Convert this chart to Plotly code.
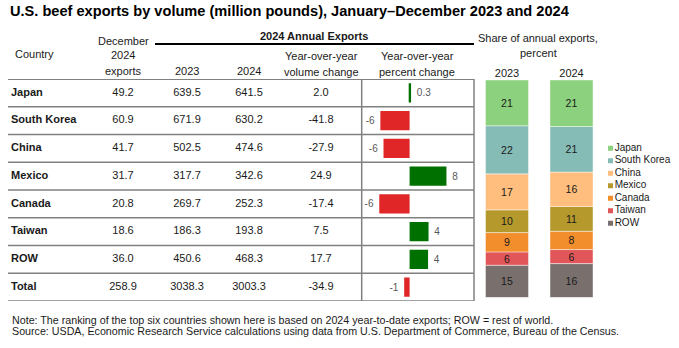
import plotly.graph_objects as go

W, H = 679, 348
FONT = "Liberation Sans, Arial, sans-serif"
TEXT = "#1a1a1a"
GRID = "#808080"

# Table data (million pounds)
countries = ["Japan", "South Korea", "China", "Mexico", "Canada", "Taiwan", "ROW", "Total"]
dec_2024_exports = [49.2, 60.9, 41.7, 31.7, 20.8, 18.6, 36.0, 258.9]
annual_2023 = [639.5, 671.9, 502.5, 317.7, 269.7, 186.3, 450.6, 3038.3]
annual_2024 = [641.5, 630.2, 474.6, 342.6, 252.3, 193.8, 468.3, 3003.3]
volume_change = [2.0, -41.8, -27.9, 24.9, -17.4, 7.5, 17.7, -34.9]
percent_change = [0.31, -6.22, -5.55, 7.84, -6.45, 4.03, 3.93, -1.15]

# Share of annual exports (percent)
share_markets = ["Japan", "South Korea", "China", "Mexico", "Canada", "Taiwan", "ROW"]
share_years = ["2023", "2024"]
share_2023 = [21.05, 22.11, 16.54, 10.46, 8.88, 6.13, 14.83]
share_2024 = [21.36, 20.98, 15.80, 11.41, 8.40, 6.45, 15.59]
share_colors = ["#8cd17d", "#86bcb6", "#ffbe7d", "#b6992d", "#f28e2b", "#e15759", "#79706e"]


def px(p):
    return p / W


def py(p):
    return 1 - p / H


def pct_label(v):
    return f"{v:.1f}" if abs(v) < 1 else f"{v:.0f}"


fig = go.Figure()

# Table columns drawn as text on the row axis
columns = [
    (11, [f"<b>{c}</b>" for c in countries], "middle right"),
    (123, [f"{v:.1f}" for v in dec_2024_exports], "middle center"),
    (187, [f"{v:.1f}" for v in annual_2023], "middle center"),
    (249, [f"{v:.1f}" for v in annual_2024], "middle center"),
    (321, [f"{v:.1f}" for v in volume_change], "middle center"),
]
for xpos, labels, pos in columns:
    fig.add_trace(go.Scatter(
        x=[xpos] * len(countries), y=countries, mode="text", text=labels,
        textposition=pos, textfont=dict(family=FONT, size=11, color=TEXT),
        xaxis="x", yaxis="y", showlegend=False, hoverinfo="skip",
    ))

# Year-over-year percent change bars
fig.add_trace(go.Bar(
    x=percent_change, y=countries, orientation="h", width=0.69,
    marker=dict(color=["#007000" if v >= 0 else "#e02626" for v in percent_change],
                line=dict(width=0)),
    text=[(" " + pct_label(v)) if v >= 0 else (pct_label(v) + " ") for v in percent_change],
    textposition="outside", cliponaxis=False,
    textfont=dict(family=FONT, size=10, color="#595959"),
    xaxis="x2", yaxis="y", showlegend=False, hoverinfo="skip",
))

# Stacked share bars, bottom segment first
for i in reversed(range(len(share_markets))):
    fig.add_trace(go.Bar(
        x=share_years, y=[share_2023[i], share_2024[i]], name=share_markets[i],
        width=0.667, marker=dict(color=share_colors[i],
                                 line=dict(color="rgba(255,255,255,0.55)", width=0.8)),
        texttemplate="%{y:.0f}", textposition="inside", insidetextanchor="middle",
        textangle=0, constraintext="none",
        textfont=dict(family=FONT, size=10.5, color=TEXT),
        xaxis="x3", yaxis="y3", showlegend=False, hoverinfo="skip",
    ))

# Legend for the share bars
fig.add_trace(go.Scatter(
    x=[13.3] * len(share_markets), y=share_markets, mode="markers+text",
    marker=dict(symbol="square", size=5, color=share_colors),
    text=share_markets, textposition="middle right",
    textfont=dict(family=FONT, size=10, color=TEXT),
    xaxis="x4", yaxis="y4", showlegend=False, hoverinfo="skip",
))

shapes = []
for k in range(len(countries) + 1):
    shapes.append(dict(type="line", xref="x", yref="y", x0=8, x1=474,
                       y0=k - 0.5, y1=k - 0.5,
                       line=dict(color=GRID, width=2 if k == 0 else 1.5)))
for xv in (361.7, 474):
    shapes.append(dict(type="line", xref="x", yref="y", x0=xv, x1=xv,
                       y0=-0.5, y1=len(countries) - 0.5,
                       line=dict(color=GRID, width=1.5)))
shapes.append(dict(type="line", xref="x", yref="paper", x0=155, x1=474,
                   y0=py(44), y1=py(44), line=dict(color="black", width=2)))

annotations = []


def note(x, y, text, size=11, anchor="center", bold=False, color=TEXT):
    annotations.append(dict(
        x=x, y=py(y), xref="x", yref="paper", text=f"<b>{text}</b>" if bold else text,
        showarrow=False, xanchor=anchor, yanchor="middle",
        font=dict(family=FONT, size=size, color=color),
    ))


note(8, 11, "U.S. beef exports by volume (million pounds), January–December 2023 and 2024",
     size=14.6, anchor="left", bold=True, color="black")
note(13, 54, "Country", anchor="left")
note(123, 40.5, "December")
note(123, 55, "2024")
note(123, 70.5, "exports")
note(314, 36, "2024 Annual Exports", bold=True)
note(187, 71, "2023")
note(249, 71, "2024")
note(321, 56, "Year-over-year")
note(321, 71.5, "volume change")
note(417, 56, "Year-over-year")
note(417, 71.5, "percent change")
note(538, 38, "Share of annual exports,")
note(538, 53, "percent")
note(10, 320, "Note: The ranking of the top six countries shown here is based on 2024 "
              "year-to-date exports; ROW = rest of world.", size=10.7, anchor="left")
note(10, 331, "Source: USDA, Economic Research Service calculations using data from U.S. "
              "Department of Commerce, Bureau of the Census.", size=10.7, anchor="left")

fig.update_layout(
    width=W, height=H, margin=dict(l=0, r=0, t=0, b=0),
    paper_bgcolor="white", plot_bgcolor="rgba(0,0,0,0)",
    barmode="relative", showlegend=False,
    font=dict(family=FONT, color=TEXT),
    shapes=shapes, annotations=annotations,
    xaxis=dict(domain=[0, 1], range=[0, W], visible=False, anchor="y"),
    yaxis=dict(domain=[py(301), py(79)], type="category", categoryorder="array",
               categoryarray=countries, range=[len(countries) - 0.5, -0.5],
               visible=False, anchor="x"),
    xaxis2=dict(domain=[px(361.7), px(474)], range=[-10.19, 13.7], visible=False,
                anchor="y"),
    xaxis3=dict(domain=[px(474.75), px(603.75)], type="category", range=[-0.5, 1.5],
                side="top", anchor="y3", showline=False, showgrid=False, ticks="",
                zeroline=False, tickfont=dict(family=FONT, size=11, color=TEXT)),
    yaxis3=dict(domain=[py(297.5), py(80)], range=[0, 100], visible=False, anchor="x3"),
    xaxis4=dict(domain=[px(600), 1], range=[0, 100], visible=False, anchor="y4"),
    yaxis4=dict(domain=[py(229.5), py(142)], type="category", categoryorder="array",
                categoryarray=share_markets, range=[len(share_markets) - 0.5, -0.5],
                visible=False, anchor="x4"),
)

fig.write_html("out.html", config={"displayModeBar": False})
